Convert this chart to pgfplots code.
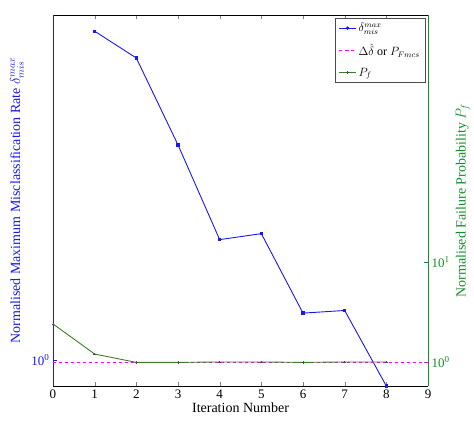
\documentclass[border=0pt]{standalone}
\usepackage{pgfplots}
\pgfplotsset{compat=1.18}
\usepackage{fontspec}
\setmainfont{Liberation Serif}
\definecolor{mblue}{RGB}{25,25,235}
\definecolor{axgreen}{RGB}{20,140,40}
\definecolor{dgreen}{RGB}{60,125,40}
\definecolor{mag}{RGB}{255,0,255}
\begin{document}
\begin{tikzpicture}
\pgfplotsset{
  every axis/.append style={width=375pt,height=371pt,scale only axis,xmin=0,xmax=9,
    /pgf/number format/assume math mode=true,
    tick align=inside,
    tick label style={font=\fontsize{13}{15}\selectfont},
    label style={font=\fontsize{14}{16}\selectfont}},
}
\begin{axis}[
  name=ax,
  ymode=log, ymin=0.861, ymax=7.29,
  axis x line*=box, axis y line*=left,
  xtick={0,...,9},
  ytick={1}, yticklabels={10\textsuperscript{0}}, yminorticks=false,
  x axis line style={black, line width=0.8pt},
  y axis line style={mblue, line width=0.8pt},
  ytick style={mblue},
  yticklabel style={text=mblue},
  xlabel={Iteration Number},
  xlabel style={at={(axis description cs:0.5,-0.059)}, anchor=center},
  ylabel={Normalised Maximum Misclassification Rate $\delta_{mis}^{max}$},
  ylabel style={text=mblue, at={(axis description cs:-0.096,0.5)}, anchor=center},
]
\addplot[mblue, line width=0.9pt, mark=square*, mark size=1.2pt] coordinates {
  (1,6.64) (2,5.69) (3,3.45) (4,2.00) (5,2.07) (6,1.31) (7,1.33) (8,0.861)
};
\end{axis}
\begin{axis}[
  ymode=log, ymin=0.575, ymax=2950,
  axis x line=none, axis y line*=right,
  ytick={1,10}, yticklabels={10\textsuperscript{0},10\textsuperscript{1}}, yminorticks=false,
  y axis line style={axgreen, line width=0.8pt},
  ytick style={axgreen},
  yticklabel style={text=axgreen},
  ylabel={Normalised Failure Probability $P_f$},
  ylabel style={text=axgreen, at={(axis description cs:1.093,0.5)}, anchor=center},
  legend style={at={(0.992,0.992)}, anchor=north east, draw=black!70,
    font=\fontsize{12}{14}\selectfont, row sep=7pt, inner sep=3pt},
  legend cell align=left,
]
\addlegendimage{draw=mblue, line width=0.9pt, mark=*, mark size=1.2pt, mark options={fill=mblue, draw=mblue}}
\addlegendentry{$\delta_{mis}^{max}$}
\addlegendimage{draw=mag, dashed, line width=0.8pt}
\addlegendentry{$\Delta\hat{\delta}$ or $P_{Fmcs}$}
\addlegendimage{draw=dgreen, line width=0.9pt, mark=+, mark size=1.5pt, mark options={draw=black!70, solid}}
\addlegendentry{$P_f$}
\addplot[mag, dashed, line width=0.7pt, forget plot] coordinates {(0,1) (9,1)};
\addplot[dgreen, line width=0.9pt, mark=+, mark size=1.3pt, mark options={black!70}, forget plot] coordinates {
  (0,2.4) (1,1.2) (2,0.99) (3,0.99) (4,1.0) (5,1.0) (6,0.99) (7,1.0) (8,1.0)
};
\end{axis}
\pgfresetboundingbox
\path ([xshift=-53pt,yshift=-34pt]ax.south west) rectangle ([xshift=46pt,yshift=15pt]ax.north east);
\end{tikzpicture}
\end{document}
